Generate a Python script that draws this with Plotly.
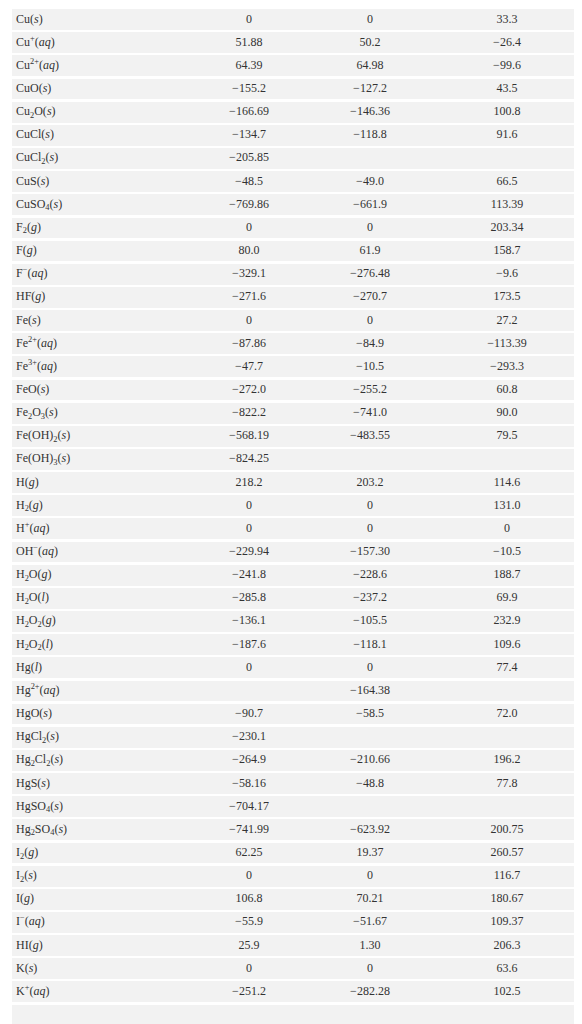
import plotly.graph_objects as go

substances = [
    "Cu(<i>s</i>)", "Cu<sup>+</sup>(<i>aq</i>)", "Cu<sup>2+</sup>(<i>aq</i>)", "CuO(<i>s</i>)",
    "Cu<sub>2</sub>O(<i>s</i>)", "CuCl(<i>s</i>)", "CuCl<sub>2</sub>(<i>s</i>)", "CuS(<i>s</i>)",
    "CuSO<sub>4</sub>(<i>s</i>)", "F<sub>2</sub>(<i>g</i>)", "F(<i>g</i>)", "F<sup>−</sup>(<i>aq</i>)",
    "HF(<i>g</i>)", "Fe(<i>s</i>)", "Fe<sup>2+</sup>(<i>aq</i>)", "Fe<sup>3+</sup>(<i>aq</i>)",
    "FeO(<i>s</i>)", "Fe<sub>2</sub>O<sub>3</sub>(<i>s</i>)", "Fe(OH)<sub>2</sub>(<i>s</i>)",
    "Fe(OH)<sub>3</sub>(<i>s</i>)", "H(<i>g</i>)", "H<sub>2</sub>(<i>g</i>)", "H<sup>+</sup>(<i>aq</i>)",
    "OH<sup>−</sup>(<i>aq</i>)", "H<sub>2</sub>O(<i>g</i>)", "H<sub>2</sub>O(<i>l</i>)",
    "H<sub>2</sub>O<sub>2</sub>(<i>g</i>)", "H<sub>2</sub>O<sub>2</sub>(<i>l</i>)", "Hg(<i>l</i>)",
    "Hg<sup>2+</sup>(<i>aq</i>)", "HgO(<i>s</i>)", "HgCl<sub>2</sub>(<i>s</i>)",
    "Hg<sub>2</sub>Cl<sub>2</sub>(<i>s</i>)", "HgS(<i>s</i>)", "HgSO<sub>4</sub>(<i>s</i>)",
    "Hg<sub>2</sub>SO<sub>4</sub>(<i>s</i>)", "I<sub>2</sub>(<i>g</i>)", "I<sub>2</sub>(<i>s</i>)",
    "I(<i>g</i>)", "I<sup>−</sup>(<i>aq</i>)", "HI(<i>g</i>)", "K(<i>s</i>)", "K<sup>+</sup>(<i>aq</i>)",
]
enthalpy = [
    "0", "51.88", "64.39", "−155.2", "−166.69", "−134.7", "−205.85", "−48.5", "−769.86", "0",
    "80.0", "−329.1", "−271.6", "0", "−87.86", "−47.7", "−272.0", "−822.2", "−568.19", "−824.25",
    "218.2", "0", "0", "−229.94", "−241.8", "−285.8", "−136.1", "−187.6", "0", "", "−90.7",
    "−230.1", "−264.9", "−58.16", "−704.17", "−741.99", "62.25", "0", "106.8", "−55.9", "25.9",
    "0", "−251.2",
]
gibbs = [
    "0", "50.2", "64.98", "−127.2", "−146.36", "−118.8", "", "−49.0", "−661.9", "0",
    "61.9", "−276.48", "−270.7", "0", "−84.9", "−10.5", "−255.2", "−741.0", "−483.55", "",
    "203.2", "0", "0", "−157.30", "−228.6", "−237.2", "−105.5", "−118.1", "0", "−164.38", "−58.5",
    "", "−210.66", "−48.8", "", "−623.92", "19.37", "0", "70.21", "−51.67", "1.30",
    "0", "−282.28",
]
entropy = [
    "33.3", "−26.4", "−99.6", "43.5", "100.8", "91.6", "", "66.5", "113.39", "203.34",
    "158.7", "−9.6", "173.5", "27.2", "−113.39", "−293.3", "60.8", "90.0", "79.5", "",
    "114.6", "131.0", "0", "−10.5", "188.7", "69.9", "232.9", "109.6", "77.4", "", "72.0",
    "", "196.2", "77.8", "", "200.75", "260.57", "116.7", "180.67", "109.37", "206.3",
    "63.6", "102.5",
]

W, H = 582, 1024
ROW_H = 23.15
n_rows = len(substances) + 1  # one more, cut-off row at the bottom
rows = list(range(n_rows))
font = dict(family="Liberation Serif", size=12, color="#333")

fig = go.Figure()
# grey row bands with white gaps between them
fig.add_trace(go.Bar(
    y=rows, x=[W - 4] * n_rows, base=[4] * n_rows, orientation="h",
    width=0.9, marker=dict(color="#f2f2f2", line_width=0),
    hoverinfo="skip", showlegend=False,
))

col_x = [8, 241, 362, 499]
col_pos = ["middle right", "middle center", "middle center", "middle center"]
for vals, x, pos in zip([substances, enthalpy, gibbs, entropy], col_x, col_pos):
    fig.add_trace(go.Scatter(
        x=[x] * len(vals), y=rows[:len(vals)], mode="text", text=vals,
        textposition=pos, textfont=font, hoverinfo="skip", showlegend=False,
    ))

fig.update_xaxes(range=[0, W], visible=False, fixedrange=True)
fig.update_yaxes(range=[H / ROW_H - 0.5, -0.5], visible=False, fixedrange=True)
fig.update_layout(width=W, height=H, margin=dict(l=0, r=0, t=0, b=0),
                  paper_bgcolor="white", plot_bgcolor="white", bargap=0)
fig.write_html("out.html")
